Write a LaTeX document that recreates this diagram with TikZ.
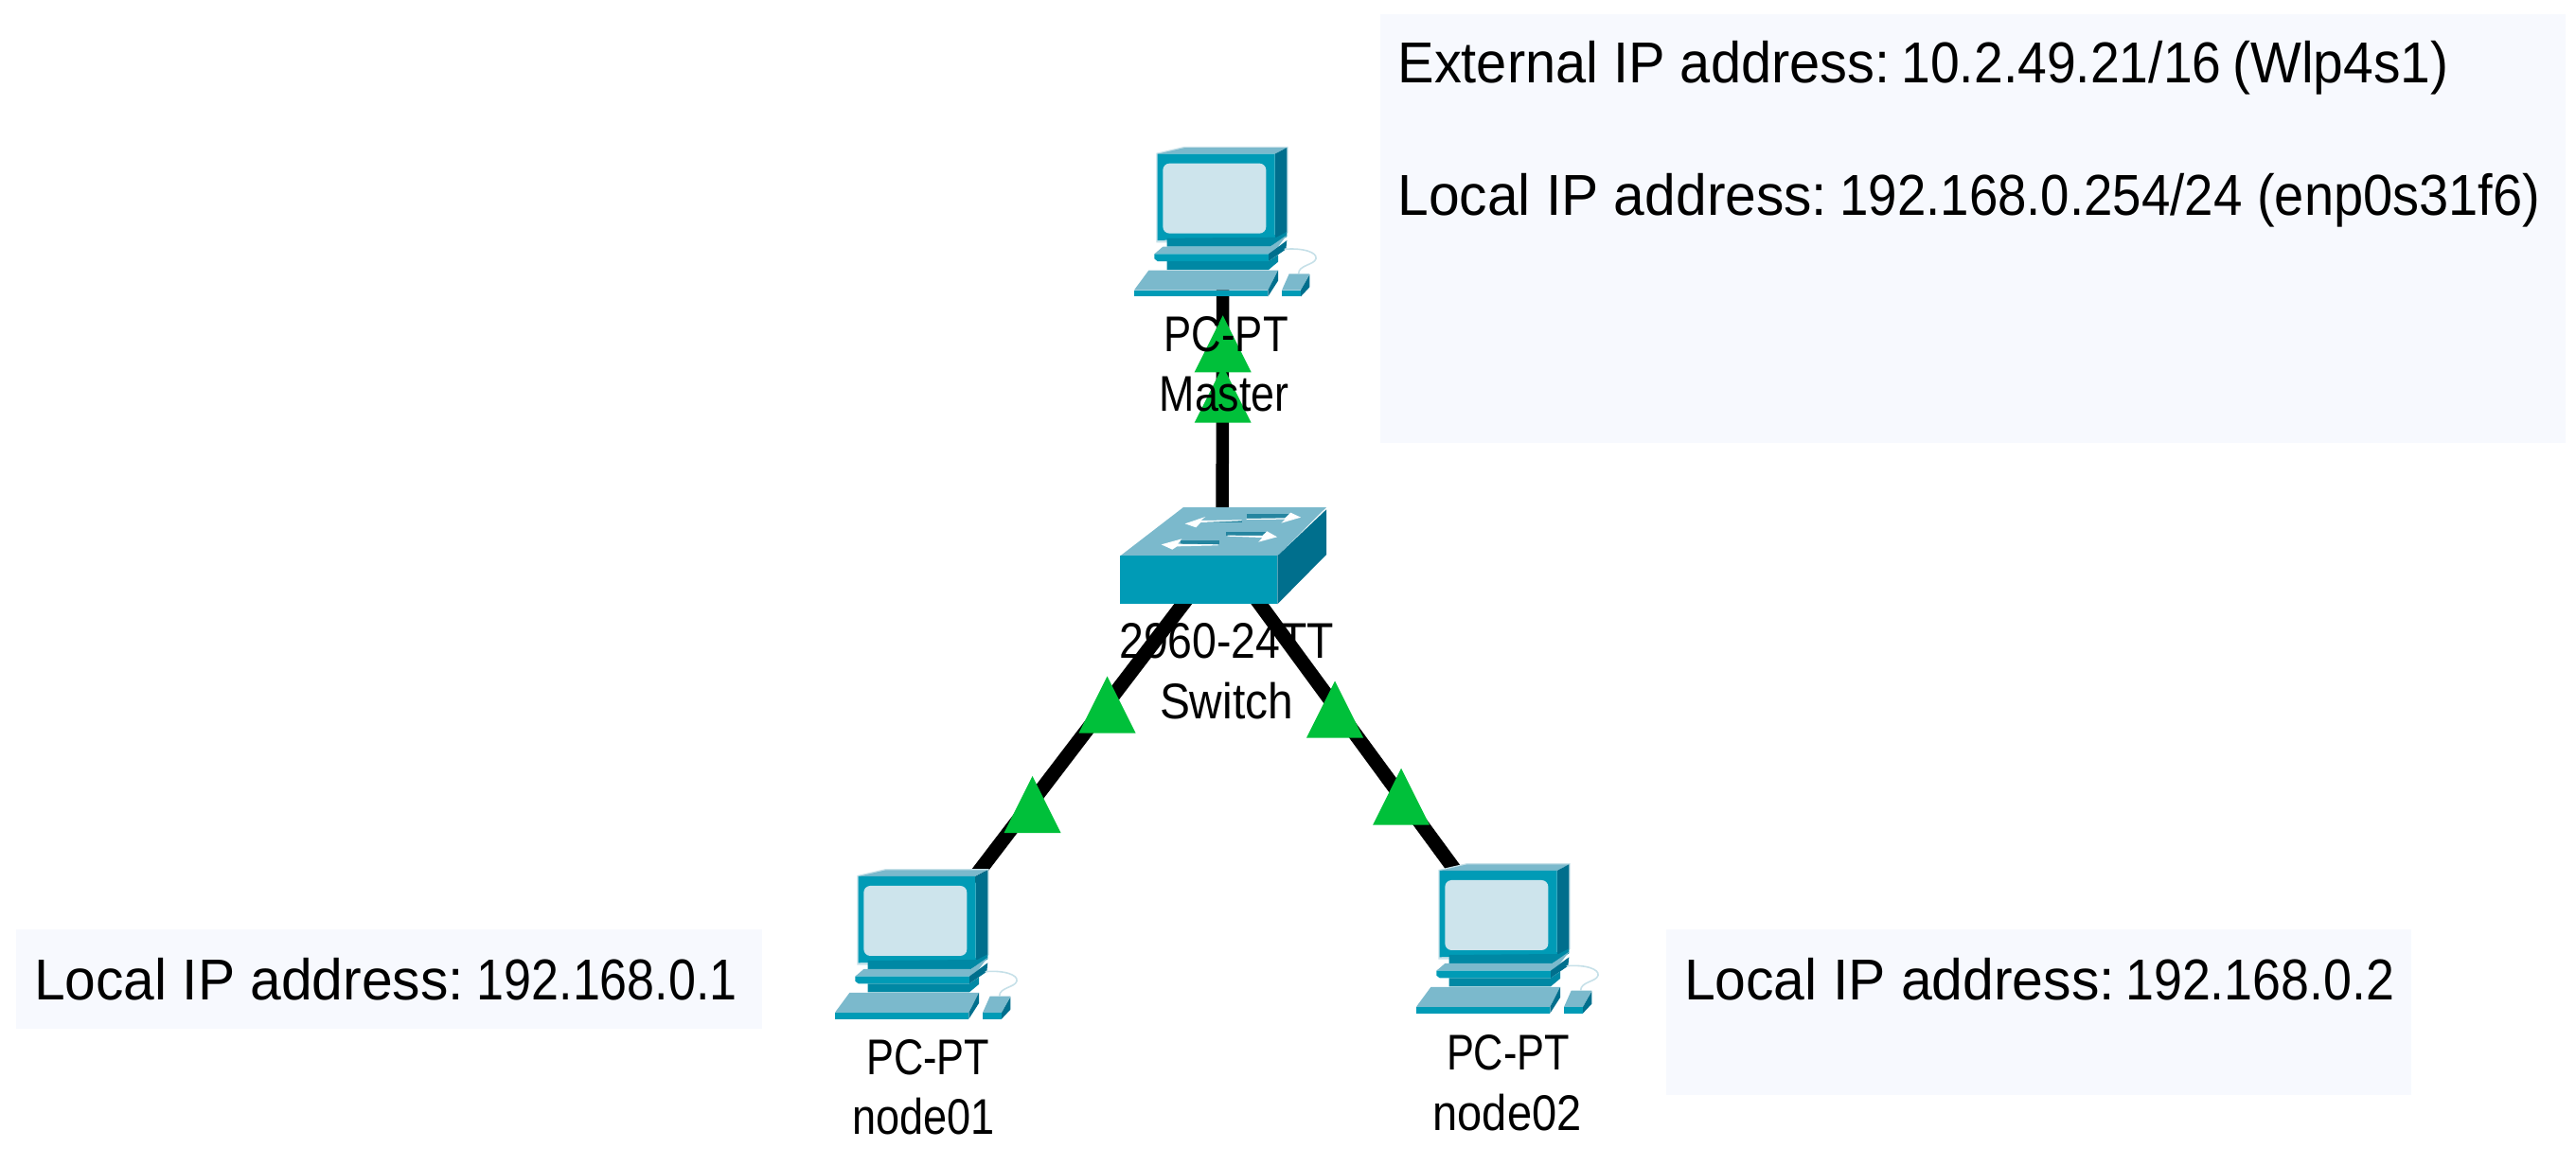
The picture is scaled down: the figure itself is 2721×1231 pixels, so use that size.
\documentclass[tikz,border=0pt]{standalone}
\usepackage{fontspec}
\setmainfont{Liberation Sans}
\definecolor{iconfront}{HTML}{009BB6}
\definecolor{icontop}{HTML}{7BB9CC}
\definecolor{iconside}{HTML}{006F8D}
\definecolor{iconmid}{HTML}{0088A4}
\definecolor{iconscreen}{HTML}{CDE4EC}
\definecolor{iconedge}{HTML}{C6E0E8}
\definecolor{notefill}{HTML}{F7F9FE}
\definecolor{linkgreen}{HTML}{00C03A}
\newcommand{\lbl}[2]{\resizebox{#1pt}{\height}{\fontsize{53}{53}\selectfont #2}}
\newcommand{\notetxt}[2]{\resizebox{#1pt}{\height}{\fontsize{61}{61}\selectfont #2}}
\newcommand{\wgap}[1]{\spaceskip=#1pt\relax\space}
\tikzset{
  txt/.style={anchor=base west,inner sep=0pt,outer sep=0pt,text=black},
  notebox/.style={fill=notefill,draw=none},
  cable/.style={line width=13.5pt,draw=black},
  slantcable/.style={line width=15pt,draw=black},
  led/.style={fill=linkgreen,draw=none},
  pics/ledup/.style={code={\fill[led] (0,0) -- (-30,60) -- (30,60) -- cycle;}},
  pics/pcicon/.style={code={
    % light halo
    \draw[iconedge,line width=2.5pt] (368,188) -- (455,168) -- (778,168) -- (778,435) -- (740,465) -- (368,465) -- cycle;
    % monitor
    \fill[icontop] (368,188) -- (455,168) -- (778,168) -- (740,188) -- cycle;
    \fill[iconside] (740,188) -- (778,168) -- (778,435) -- (740,465) -- cycle;
    \fill[iconfront] (368,188) -- (740,188) -- (740,450) -- (368,462) -- cycle;
    \fill[iconfront] (368,445) rectangle (740,455);
    \fill[iconscreen,rounded corners=7pt] (385,218) rectangle (712,440);
    \fill[iconmid] (398,455) -- (745,452) -- (778,435) -- (778,450) -- (725,482) -- (398,482) -- cycle;
    % base
    \fill[icontop] (385,482) -- (725,482) -- (778,445) -- (750,482) -- (722,505) -- (358,505) -- cycle;
    \fill[iconfront] (358,505) -- (720,505) -- (720,528) -- (368,528) -- (358,520) -- cycle;
    \fill[iconside] (720,505) -- (778,462) -- (775,490) -- (720,528) -- cycle;
    \fill[iconmid] (398,528) -- (720,528) -- (750,508) -- (750,530) -- (720,555) -- (398,555) -- cycle;
    % mouse lead
    \draw[iconedge,line width=1.6pt] (770,490) .. controls (830,485) and (875,500) .. (870,520) .. controls (865,540) and (815,540) .. (815,567);
    % keyboard
    \fill[icontop] (340,557) -- (750,557) -- (718,620) -- (295,620) -- (295,618) -- cycle;
    \fill[iconfront] (295,620) -- (718,620) -- (718,640) -- (295,640) -- cycle;
    \fill[iconside] (718,620) -- (750,557) -- (750,590) -- (718,640) -- cycle;
    % mouse
    \fill[icontop] (785,568) -- (850,568) -- (822,620) -- (762,620) -- cycle;
    \fill[iconfront] (762,620) -- (822,620) -- (822,640) -- (762,640) -- cycle;
    \fill[iconside] (822,620) -- (850,570) -- (850,610) -- (822,640) -- cycle;
  }},
  pics/switchicon/.style={code={
    \fill[icontop] (250,262) -- (450,108) -- (903,108) -- (748,262) -- cycle;
    \fill[iconfront] (250,262) rectangle (748,415);
    \fill[iconside] (748,262) -- (903,115) -- (903,258) -- (748,415) -- cycle;
    % arrows on the top face
    \fill[iconside!70!icontop] (515,150) -- (635,150) -- (635,156) -- (515,156) -- cycle;
    \fill[iconside!70!icontop] (440,212) -- (565,212) -- (565,226) -- (440,226) -- cycle;
    \fill[iconside!70!icontop] (650,128) -- (785,128) -- (785,144) -- (650,144) -- cycle;
    \fill[iconside!70!icontop] (585,186) -- (720,186) -- (720,198) -- (585,198) -- cycle;
    \fill[white] (455,160) -- (520,138) -- (505,150) -- (635,148) -- (635,151) -- (505,156) -- (490,172) -- cycle;
    \fill[white] (380,226) -- (445,208) -- (432,224) -- (560,226) -- (560,229) -- (430,232) -- (415,242) -- cycle;
    \fill[white] (822,140) -- (760,158) -- (772,146) -- (650,147) -- (650,144) -- (772,142) -- (790,125) -- cycle;
    \fill[white] (747,202) -- (688,218) -- (700,204) -- (590,200) -- (590,197) -- (700,198) -- (715,184) -- cycle;
  }}
}
\begin{document}
\begin{tikzpicture}[x=1pt,y=-1pt]
\useasboundingbox (0,0) rectangle (2721,1231);
% note panels
\fill[notebox] (1458,15) rectangle (2710,468);
\fill[notebox] (17,982) rectangle (805,1087);
\fill[notebox] (1760,982) rectangle (2547,1157);
% connection points
\coordinate (pcmaster) at (1291.7,300);
\coordinate (sw) at (1291,584);
\coordinate (pcone) at (1027,930);
\coordinate (pctwo) at (1541,925);
% links
\draw[cable] (pcmaster) -- (sw);
\draw[slantcable] (sw) -- (pcone);
\draw[slantcable] (sw) -- (pctwo);
% link lights
\pic at (1291.7,333.3) {ledup};
\pic at (1291.7,386.7) {ledup};
\pic at (1169.5,714.5) {ledup};
\pic at (1090.5,820) {ledup};
\pic at (1410,719.5) {ledup};
\pic at (1480,811.7) {ledup};
% devices
\pic[scale=1/3] at (1100,100) {pcicon};
\pic[scale=1/3] at (784,863.3) {pcicon};
\pic[scale=1/3] at (1398,857.3) {pcicon};
\pic[scale=1/3] at (1100,500) {switchicon};
% device labels
\node[txt] (lm1) at (1229.7,371.7) {\lbl{131}{PC-PT}};
\node[txt] (lm2) at (1224.7,434.3) {\lbl{137}{Master}};
\node[txt] (ls1) at (1182.3,695) {\lbl{227}{2960-24TT}};
\node[txt] (ls2) at (1225,759.3) {\lbl{141}{Switch}};
\node[txt] (la1) at (915.3,1135) {\lbl{130}{PC-PT}};
\node[txt] (la2) at (900.2,1198) {\lbl{150.5}{node01}};
\node[txt] (lb1) at (1528,1130) {\lbl{130}{PC-PT}};
\node[txt] (lb2) at (1513.5,1194) {\lbl{157}{node02}};
% note texts
\node[txt] (n1) at (1476.5,87) {\notetxt{520}{External IP address:}\wgap{12}\notetxt{338}{10.2.49.21/16}\wgap{12}\notetxt{228}{(Wlp4s1)}};
\node[txt] (n2) at (1476.4,227) {\notetxt{454}{Local IP address:}\wgap{12.8}\notetxt{425.6}{192.168.0.254/24}\wgap{15.4}\notetxt{299}{(enp0s31f6)}};
\node[txt] (n3) at (36,1056) {\notetxt{454}{Local IP address:}\wgap{13.8}\notetxt{274.8}{192.168.0.1}};
\node[txt] (n4) at (1779,1056) {\notetxt{455}{Local IP address:}\wgap{11.2}\notetxt{284}{192.168.0.2}};
\end{tikzpicture}
\end{document}
